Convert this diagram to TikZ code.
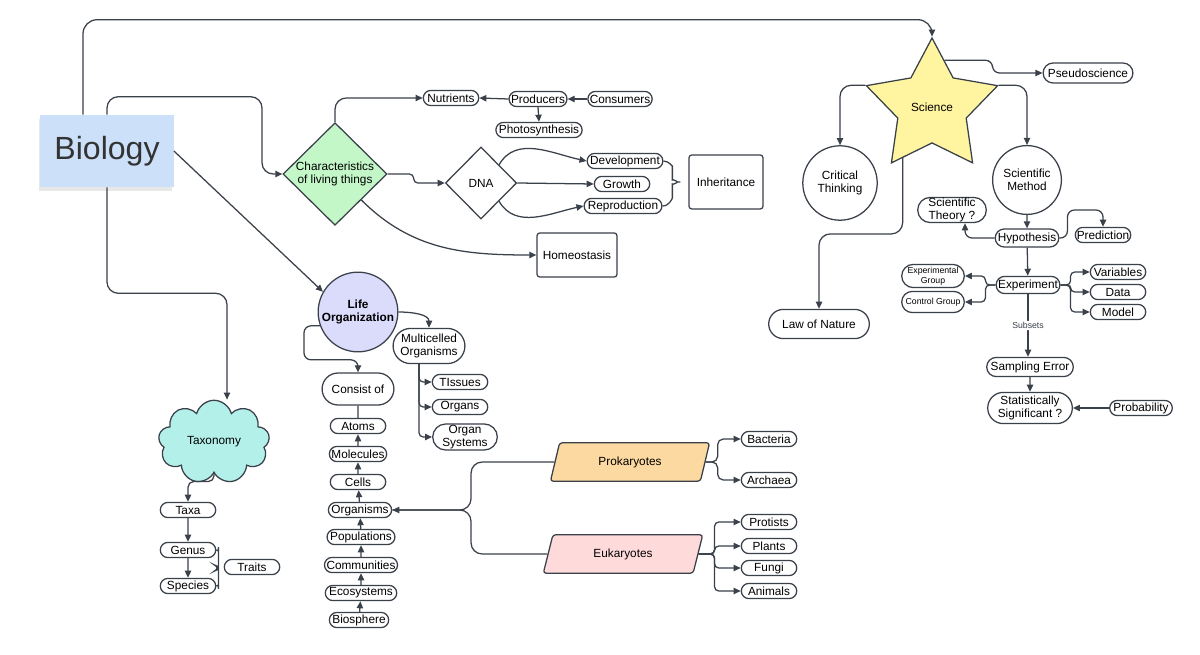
\documentclass[tikz,border=0pt]{standalone}
\usepackage{fontspec}
\setmainfont{Liberation Sans}
\usepackage{tikz}
\usetikzlibrary{positioning,calc,arrows.meta,shapes.geometric,shapes.misc,shapes.symbols,shadows,decorations.pathreplacing}

\definecolor{linec}{HTML}{3A414A}
\definecolor{bioblue}{HTML}{CCE0FA}
\definecolor{chargreen}{HTML}{C3F7C8}
\definecolor{lifeblue}{HTML}{DBDBFC}
\definecolor{taxcyan}{HTML}{B3F0EA}
\definecolor{sciyellow}{HTML}{FFF5A0}
\definecolor{prokorange}{HTML}{FCD9A0}
\definecolor{eukpink}{HTML}{FFDADB}

\begin{document}
\begin{tikzpicture}[
        x=0.025cm, y=0.025cm,
        every node/.style={font=\fontsize{8.4}{9.6}\selectfont},
        pill/.style={rounded rectangle, draw=linec, line width=0.9pt, inner xsep=0.5pt, inner ysep=0pt, minimum height=0.38cm, minimum width=1.42cm, align=center},
        box/.style={rectangle, draw=linec, line width=0.9pt, rounded corners=2pt},
        ring/.style={circle, draw=linec, line width=0.9pt, inner sep=1pt, align=center},
        gem/.style={diamond, aspect=1, draw=linec, line width=0.9pt, inner sep=0pt, align=center},
        slab/.style={trapezium, trapezium left angle=77, trapezium right angle=103, trapezium stretches=true, draw=linec, line width=0.9pt, rounded corners=2pt, minimum width=4cm, minimum height=0.96cm},
        arrow/.style={->, >={Triangle[length=5pt, width=4.5pt]}, draw=linec, line width=0.9pt, rounded corners=5pt},
        link/.style={draw=linec, line width=0.9pt, rounded corners=5pt},
        tiny/.style={font=\fontsize{6.2}{7.2}\selectfont}
    ]
        \useasboundingbox (0,0) rectangle (1200,-655);

        % biology side
        \node[rectangle, fill=bioblue, minimum width=3.33cm, minimum height=1.8cm, drop shadow={shadow xshift=-1pt, shadow yshift=-2.5pt, opacity=0.18}, font=\fontsize{22.8}{26}\selectfont, text=black!80] (bio) at (107,-151) {Biology};
        \node[gem, fill=chargreen, minimum width=2.6cm, minimum height=2.55cm] (char) at (335,-174) {Characteristics\\of living things};
        \node[pill] (nut) at (451,-98) {Nutrients};
        \node[pill] (prod) at (538,-99) {Producers};
        \node[pill, minimum width=1.58cm] (cons) at (620,-99) {Consumers};
        \node[pill, minimum width=2.15cm] (photo) at (539,-130) {Photosynthesis};
        \node[gem, minimum width=1.78cm, minimum height=1.8cm] (dna) at (481,-183) {DNA};
        \node[pill, minimum width=1.88cm] (dev) at (625,-161) {Development};
        \node[pill] (grow) at (622,-184) {Growth};
        \node[pill, minimum width=1.98cm] (repr) at (623,-206) {Reproduction};
        \node[box, minimum width=1.85cm, minimum height=1.35cm] (inh) at (726,-182) {Inheritance};
        \node[box, minimum width=2cm, minimum height=1.1cm] (homeo) at (577,-255) {Homeostasis};
        \coordinate (inhtip) at ($(inh.west)+(-4,0)$);

        % life organization
        \node[ring, fill=lifeblue, minimum size=1.95cm, font=\fontsize{8.4}{9.6}\selectfont\bfseries] (life) at (358,-312) {Life\\Organization};
        \node[pill, minimum width=1.83cm, minimum height=0.88cm] (multi) at (429,-346) {Multicelled\\Organisms};
        \node[pill, minimum width=1.83cm, minimum height=0.8cm] (consist) at (358,-389) {Consist of};
        \node[pill] (tis) at (460,-382) {TIssues};
        \node[pill] (organ) at (460,-407) {Organs};
        \node[pill, minimum width=1.65cm, minimum height=0.65cm] (osys) at (465,-437) {Organ\\Systems};
        \node[pill] (atoms) at (358,-426) {Atoms};
        \node[pill] (mol) at (358,-454) {Molecules};
        \node[pill] (cells) at (358,-482) {Cells};
        \node[pill, minimum width=1.5cm] (orgs) at (360,-510) {Organisms};
        \node[pill, minimum width=1.58cm] (pops) at (361,-537) {Populations};
        \node[pill, minimum width=1.8cm] (comm) at (361,-565) {Communities};
        \node[pill, minimum width=1.82cm] (eco) at (361,-593) {Ecosystems};
        \node[pill] (bios) at (359,-620) {Biosphere};

        \node[slab, fill=prokorange] (prok) at (630,-462) {Prokaryotes};
        \node[slab, fill=eukpink] (euk) at (623,-554) {Eukaryotes};
        \node[pill] (bact) at (769,-439) {Bacteria};
        \node[pill] (arch) at (769,-480) {Archaea};
        \node[pill] (prot) at (769,-522) {Protists};
        \node[pill] (plant) at (769,-546) {Plants};
        \node[pill] (fungi) at (769,-568) {Fungi};
        \node[pill] (anim) at (769,-591) {Animals};
        \coordinate (split) at (471,-510);

        % taxonomy
        \node[cloud, cloud puffs=9, aspect=1.4, draw=linec, line width=0.9pt, fill=taxcyan, minimum width=2.78cm, minimum height=2.08cm] (tax) at (214,-442) {Taxonomy};
        \node[pill] (taxa) at (188,-510) {Taxa};
        \node[pill] (genus) at (188,-550) {Genus};
        \node[pill] (species) at (188,-586) {Species};
        \node[pill] (traits) at (252,-567) {Traits};

        % science side
        \node[star, star points=5, star point ratio=1.92, minimum size=3.45cm, draw=linec, line width=0.9pt, fill=sciyellow, inner sep=0pt] (sci) at (932,-107) {Science};
        \node[pill, minimum width=2.28cm, minimum height=0.5cm] (pseudo) at (1088,-73) {Pseudoscience};
        \node[ring, minimum size=1.86cm] (crit) at (840,-183) {Critical\\Thinking};
        \node[ring, minimum size=1.72cm] (meth) at (1027,-180) {Scientific\\Method};
        \node[pill, minimum width=2.55cm, minimum height=0.73cm] (law) at (819,-324) {Law of Nature};
        \node[pill, minimum width=1.75cm, minimum height=0.63cm] (theo) at (952,-210) {Scientific\\Theory ?};
        \node[pill, minimum width=1.53cm, minimum height=0.45cm] (hyp) at (1027,-238) {Hypothesis};
        \node[pill] (pred) at (1103,-235) {Prediction};
        \node[pill, minimum width=1.63cm, minimum height=0.43cm] (exp) at (1028,-285) {Experiment};
        \node[pill, tiny, minimum width=1.6cm, minimum height=0.58cm] (egrp) at (933,-276) {Experimental\\Group};
        \node[pill, tiny, minimum width=1.6cm, minimum height=0.53cm] (cgrp) at (933,-302) {Control Group};
        \node[pill] (var) at (1118,-272) {Variables};
        \node[pill] (data) at (1118,-292) {Data};
        \node[pill] (model) at (1118,-312) {Model};
        \node[pill, minimum width=2.2cm, minimum height=0.48cm] (samp) at (1030,-367) {Sampling Error};
        \node[pill, minimum width=2.15cm, minimum height=0.78cm] (stat) at (1030,-408) {Statistically\\Significant ?};
        \node[pill, minimum width=1.6cm] (prob) at (1141,-408) {Probability};

        % connectors from biology
        \draw[arrow, rounded corners=10pt] ($(bio.north)+(-24,0)$) -- ++(0,95) -| (sci.outer point 1);
        \draw[arrow, rounded corners=8pt] (bio.north) -- ++(0,18) -- ++(155,0) |- (char.west);
        \draw[arrow] (bio.east) -- (life.150);
        \draw[arrow, rounded corners=8pt] (bio.south) -- ++(0,-106) -| ($(tax.north)+(13,0)$);

        \draw[arrow, rounded corners=8pt] (char.north) |- (nut.west);
        \draw[arrow] (prod.west) -- (nut.east);
        \draw[arrow] (cons.west) -- (prod.east);
        \draw[arrow] (prod.south) -- (photo.north);
        \draw[arrow, rounded corners=3pt] (char.east) -- ++(26,0) |- (dna.west);
        \draw[arrow] (dna.north east) to[out=60, in=168] (dev.west);
        \draw[arrow] (dna.east) -- (grow.west);
        \draw[arrow] (dna.south east) to[out=-60, in=192] (repr.west);
        \draw[link] (dev.east) to[out=0, in=90] ($(inhtip)+(-12,9)$) to[out=-90, in=180] (inhtip)
            to[out=180, in=90] ($(inhtip)+(-12,-9)$) to[out=-90, in=0] (repr.east);
        \draw[arrow] (char.south east) to[out=-45, in=180] (homeo.west);

        % life organization
        \draw[arrow] (life.east) to[out=0, in=90] (multi.north);
        \draw[arrow] (life.200) -- ++(-16,0) -- ++(0,-34) -| (consist.north);
        \coordinate (trunk) at ($(multi.south)+(-10,0)$);
        \draw[arrow, rounded corners=3pt] (trunk) |- (tis.west);
        \draw[arrow, rounded corners=3pt] (trunk) |- (organ.west);
        \draw[arrow, rounded corners=3pt] (trunk) |- (osys.west);
        \draw[link] (consist) -- (atoms);
        \foreach \a/\b in {mol/atoms, cells/mol, orgs/cells, pops/orgs, comm/pops, eco/comm, bios/eco}
            \draw[arrow] (\a) -- (\b);

        \draw[arrow, rounded corners=8pt] (prok.west) -| (split) -- (orgs.east);
        \draw[link, rounded corners=8pt] (euk.west) -| (split) -- (orgs.east);
        \foreach \n in {bact, arch}
            \draw[arrow, rounded corners=4pt] (prok.east) -- ++(12,0) |- (\n.west);
        \foreach \n in {prot, plant, fungi, anim}
            \draw[arrow, rounded corners=3pt] (euk.east) -- ++(16,0) |- (\n.west);

        % taxonomy
        \draw[arrow, rounded corners=4pt] (tax.south) -- ++(0,-8) -| (taxa.north);
        \draw[arrow] (taxa) -- (genus);
        \draw[arrow] (genus) -- (species);
        \draw[link, decorate, decoration={brace, amplitude=3pt}] (genus.east) -- (species.east);

        % science
        \draw[arrow] (sci.75) -- ++(48,0) |- (pseudo.west);
        \draw[arrow, rounded corners=8pt] (sci.outer point 2) -| (crit.north);
        \draw[arrow, rounded corners=8pt] (sci.outer point 5) -| (meth.north);
        \draw[arrow, rounded corners=8pt] ($(sci.outer point 3)+(12,6)$) -- ++(0,-76) -| (law.north);
        \draw[arrow] (meth) -- (hyp);
        \draw[arrow] (hyp.west) -| ($(theo.south)+(13,0)$);
        \draw[arrow] (hyp.east) -- ++(8,0) -- ++(0,28) -| (pred.north);
        \draw[arrow] (hyp) -- (exp);
        \draw[arrow, rounded corners=3pt] (exp.west) -- ++(-10,0) |- (egrp.east);
        \draw[arrow, rounded corners=3pt] (exp.west) -- ++(-10,0) |- (cgrp.east);
        \foreach \n in {var, data, model}
            \draw[arrow, rounded corners=3pt] (exp.east) -- ++(10,0) |- (\n.west);
        \draw[arrow] (exp.south) -- node[fill=white, tiny, text=linec, inner sep=1pt] {Subsets} (exp.south |- samp.north);
        \draw[arrow] (samp) -- (stat);
        \draw[arrow] (prob.west) -- (stat.east);
    \end{tikzpicture}
\end{document}
